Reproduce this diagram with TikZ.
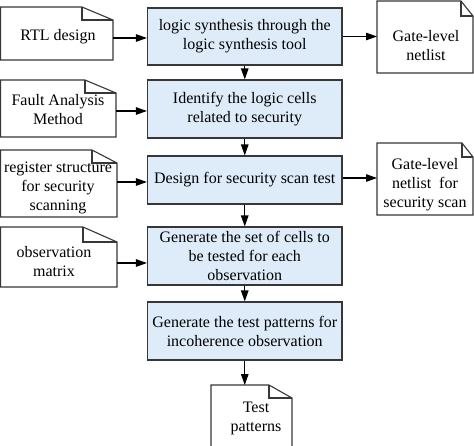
\documentclass[tikz,border=0pt]{standalone}
\usepackage{fontspec}
\setmainfont{Liberation Serif}
\usetikzlibrary{arrows.meta}
\definecolor{boxfill}{RGB}{221,236,248}
\definecolor{edge}{RGB}{55,55,55}
\tikzset{
  txt/.style={font=\fontsize{16}{19}\selectfont, align=center, inner sep=0pt, text=black},
  procbox/.style={txt, draw=edge, fill=boxfill, line width=1.1pt, minimum width=194.5pt},
  docframe/.style={draw=none, inner sep=0pt, outer sep=0pt},
  docline/.style={draw=edge, line width=1.1pt, line join=miter},
  arr/.style={draw=black, line width=1.1pt, -{Triangle[length=11pt,width=7.5pt]}},
}
\newcommand\docbox[7]{%
  \node[docframe, minimum width=#4pt, minimum height=#5pt] (#1) at (#2,#3) {};
  \draw[docline, fill=white] (#1.south west) -- (#1.north west) -- ([xshift=-#6pt]#1.north east)
     -- ([yshift=-#7pt]#1.north east) -- (#1.south east) -- cycle;
  \draw[docline] ([xshift=-#6pt]#1.north east) -- ([xshift=-#6pt,yshift=-#7pt]#1.north east)
     -- ([yshift=-#7pt]#1.north east);
}
\begin{document}
\begin{tikzpicture}[x=1pt,y=-1pt]
\useasboundingbox (0,0) rectangle (474,445);
\fill[white] (0,0) rectangle (474,445);
\clip (0,0) rectangle (474,445);

% process boxes
\node[procbox, minimum height=57pt] (b1) at (244.75,36.5) {logic synthesis through the\\logic synthesis tool};
\node[procbox, minimum height=58pt] (b2) at (244.75,109) {Identify the logic cells\\related to security};
\node[procbox, minimum height=48pt] (b3) at (244.75,180) {Design for security scan test};
\node[procbox, minimum height=58pt] (b4) at (244.75,256) {Generate the set of cells to\\be tested for each\\observation};
\node[procbox, minimum height=58pt] (b5) at (244.75,331) {Generate the test patterns for\\incoherence observation};

% documents
\docbox{rtl}{56.75}{33.5}{112.5}{53}{31}{13}
\node[txt] (rtlT) at (58,37) {RTL design};
\docbox{fault}{58.25}{108.5}{115.5}{57}{31}{13}
\node[txt] (faultT) at (58,110) {Fault Analysis\\Method};
\docbox{reg}{58.75}{183.5}{116.5}{67}{25}{13}
\node[txt] (regT) at (58,188) {register structure\\for security\\scanning};
\docbox{obs}{58.75}{257}{116.5}{60}{34}{15}
\node[txt] (obsT) at (54,262) {observation\\matrix};
\docbox{gate1}{425}{37}{96}{72}{12}{15}
\node[txt] (gate1T) at (426,46) {Gate-level\\netlist};
\docbox{gate2}{425}{179}{96}{72}{11}{14}
\node[txt] (gate2T) at (425,184.5) {Gate-level\\netlist\ \ for\\security scan};
\docbox{test}{251.5}{417.5}{81}{65}{23}{13}
\node[txt] (testT) at (256,418) {Test\\patterns};

% horizontal connectors
\path ([yshift=-4.5pt]rtl.east) coordinate (a1);
\draw[arr] (a1) -- (a1 -| b1.west);
\path ([yshift=-2.5pt]fault.east) coordinate (a2);
\draw[arr] (a2) -- (a2 -| b2.west);
\path ([yshift=1.5pt]reg.east) coordinate (a3);
\draw[arr] (a3) -- (a3 -| b3.west);
\path ([yshift=-6pt]obs.east) coordinate (a4);
\draw[arr] (a4) -- (a4 -| b4.west);
\path (b1.east) coordinate (a5);
\draw[arr] (a5) -- (a5 -| gate1.west);
\path ([yshift=2pt]b3.east) coordinate (a6);
\draw[arr] (a6) -- (a6 -| gate2.west);

% vertical connectors
\draw[arr] (b1.south) -- (b2.north);
\draw[arr] (b2.south) -- (b3.north);
\draw[arr] (b3.south) -- (b4.north);
\draw[arr] (b4.south) -- (b5.north);
\draw[arr] (b5.south) -- (b5.south |- test.north);
\end{tikzpicture}
\end{document}
